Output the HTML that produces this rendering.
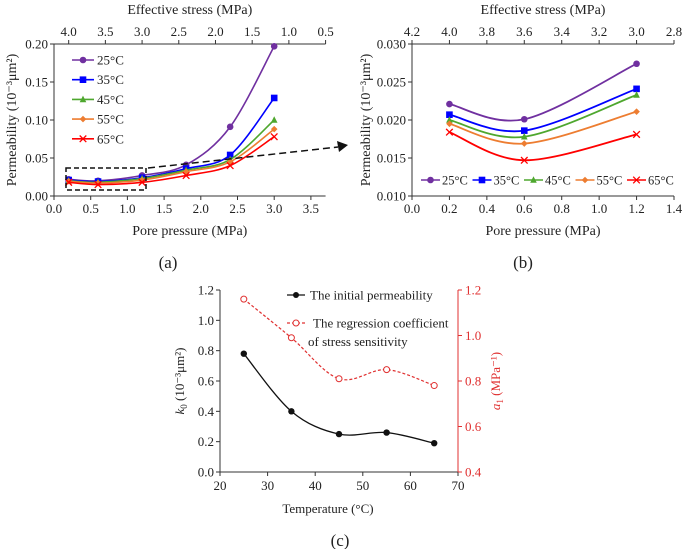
<!DOCTYPE html>
<html><head><meta charset="utf-8">
<style>
html,body{margin:0;padding:0;background:#fff;}
svg{display:block;font-family:"Liberation Serif",serif;}
</style></head>
<body>
<svg id="fig" width="685" height="549" viewBox="0 0 685 549"></svg>
<script>
// ---- data (a) ----
const poreA = [0.2, 0.6, 1.2, 1.8, 2.4, 3.0];
const tempLabels = ["25°C","35°C","45°C","55°C","65°C"];
const permA25 = [0.022, 0.020, 0.027, 0.041, 0.091, 0.197];
const permA35 = [0.021, 0.019, 0.024, 0.036, 0.054, 0.129];
const permA45 = [0.020, 0.018, 0.023, 0.034, 0.048, 0.100];
const permA55 = [0.0195, 0.017, 0.021, 0.032, 0.045, 0.088];
const permA65 = [0.018, 0.015, 0.018, 0.027, 0.040, 0.078];
const xTicksA = [0.0,0.5,1.0,1.5,2.0,2.5,3.0,3.5];
const topTicksA = [4.0,3.5,3.0,2.5,2.0,1.5,1.0,0.5];
const yTicksA = [0.00,0.05,0.10,0.15,0.20];
// ---- data (b) ----
const poreB = [0.2, 0.6, 1.2];
const permB25 = [0.0221, 0.0201, 0.0274];
const permB35 = [0.0207, 0.0186, 0.0241];
const permB45 = [0.0200, 0.0178, 0.0233];
const permB55 = [0.0195, 0.0169, 0.0211];
const permB65 = [0.0184, 0.0147, 0.0181];
const xTicksB = [0.0,0.2,0.4,0.6,0.8,1.0,1.2,1.4];
const topTicksB = [4.2,4.0,3.8,3.6,3.4,3.2,3.0,2.8];
const yTicksB = [0.010,0.015,0.020,0.025,0.030];
// ---- data (c) ----
const temps = [25,35,45,55,65];
const k0 = [0.78, 0.40, 0.25, 0.26, 0.19];
const a1 = [1.16, 0.99, 0.81, 0.85, 0.78];
const xTicksC = [20,30,40,50,60,70];
const yTicksC = [0.0,0.2,0.4,0.6,0.8,1.0,1.2];
const yTicksCR = [0.4,0.6,0.8,1.0,1.2];

const colors = ["#7030a0","#0000ff","#4ea72e","#ed7d31","#ff0000"];
const markers = ["circle","square","triangle","diamond","x"];
const NS="http://www.w3.org/2000/svg";
const svg=document.getElementById('fig');
function el(tag,attrs,parent){const e=document.createElementNS(NS,tag);for(const k in attrs)e.setAttribute(k,attrs[k]);(parent||svg).appendChild(e);return e;}
function txt(s,x,y,attrs,parent){const t=el('text',Object.assign({x:x,y:y},attrs||{}),parent);t.textContent=s;return t;}
function spline(pts){
  let d="M"+pts[0][0]+","+pts[0][1];
  for(let i=0;i<pts.length-1;i++){
    const p0=pts[i-1]||pts[i],p1=pts[i],p2=pts[i+1],p3=pts[i+2]||p2;
    const c1=[p1[0]+(p2[0]-p0[0])/6,p1[1]+(p2[1]-p0[1])/6];
    const c2=[p2[0]-(p3[0]-p1[0])/6,p2[1]-(p3[1]-p1[1])/6];
    d+=" C"+c1[0]+","+c1[1]+" "+c2[0]+","+c2[1]+" "+p2[0]+","+p2[1];
  }
  return d;
}
function marker(type,x,y,c,g,s){
  s=s||3.3;
  if(type==="circle") return el('circle',{cx:x,cy:y,r:s,fill:c},g);
  if(type==="square") return el('rect',{x:x-s,y:y-s,width:2*s,height:2*s,fill:c},g);
  if(type==="triangle") return el('polygon',{points:`${x},${y-s-0.5} ${x-s},${y+s-0.5} ${x+s},${y+s-0.5}`,fill:c},g);
  if(type==="diamond") return el('polygon',{points:`${x},${y-s} ${x+s},${y} ${x},${y+s} ${x-s},${y}`,fill:c},g);
  const g2=el('g',{stroke:c,'stroke-width':1.3},g);
  el('line',{x1:x-s,y1:y-s,x2:x+s,y2:y+s},g2);el('line',{x1:x-s,y1:y+s,x2:x+s,y2:y-s},g2);return g2;
}
function axesFrame(g,L,R,T,B,xTicks,xFn,yTicks,yFn,xfmt,yfmt,topTicks,topFn){
  const ax=el('g',{stroke:'#333','stroke-width':1,fill:'none'},g);
  el('line',{x1:L,y1:B,x2:R,y2:B},ax);el('line',{x1:L,y1:T,x2:L,y2:B},ax);
  el('line',{x1:L,y1:T,x2:R,y2:T},ax);
  xTicks.forEach(v=>{const x=xFn(v);el('line',{x1:x,y1:B,x2:x,y2:B+4},ax);
    const t=txt(xfmt(v),x,B+17,{'text-anchor':'middle','font-size':13,fill:'#222'},g);
    });
  yTicks.forEach(v=>{const y=yFn(v);el('line',{x1:L-4,y1:y,x2:L,y2:y},ax);
    const t=txt(yfmt(v),L-6,y+4.5,{'text-anchor':'end','font-size':13,fill:'#222'},g);
    });
  if(topTicks) topTicks.forEach(v=>{const x=topFn(v);el('line',{x1:x,y1:T-4,x2:x,y2:T},ax);
    const t=txt(v.toFixed(1),x,T-8,{'text-anchor':'middle','font-size':13,fill:'#222'},g);
    });
}

// ===== Chart (a) =====
(function(){
  const g=el('g',{});
  
  const L=54,T=44,B=196,pxPer=73.4,R=L+3.7*pxPer;
  const xs=v=>L+v*pxPer, ys=v=>B-(v/0.2)*(B-T), ts=v=>xs(4.2-v);
  axesFrame(g,L,R,T,B,xTicksA,xs,yTicksA,ys,v=>v.toFixed(1),v=>v.toFixed(2),topTicksA,ts);
  const tt=txt("Effective stress (MPa)",(L+R)/2,14,{'text-anchor':'middle','font-size':14,fill:'#222'},g);
  
  const xt=txt("Pore pressure (MPa)",(L+R)/2,235,{'text-anchor':'middle','font-size':14,fill:'#222'},g);
  
  const yt=txt("Permeability (10⁻³μm²)",0,0,{'text-anchor':'middle','font-size':14,fill:'#222',transform:`translate(16,${(T+B)/2}) rotate(-90)`},g);
  
  const series=[permA25,permA35,permA45,permA55,permA65];
  series.forEach((s,i)=>{
    const sg=el('g',{},g);
    
    const pts=poreA.map((p,j)=>[xs(p),ys(s[j])]);
    el('path',{d:spline(pts),stroke:colors[i],'stroke-width':1.6,fill:'none'},sg);
    pts.forEach(p=>marker(markers[i],p[0],p[1],colors[i],sg));
  });
  tempLabels.forEach((lab,i)=>{
    const y=60+i*19.7;
    const lg=el('g',{},g);
    
    el('line',{x1:72,y1:y,x2:94,y2:y,stroke:colors[i],'stroke-width':1.6},lg);
    marker(markers[i],83,y,colors[i],lg);
    txt(lab,97,y+4.5,{'font-size':13,fill:'#222'},lg);
  });
  const zb=el('rect',{x:66,y:168,width:80,height:22,fill:'none',stroke:'#111','stroke-width':1.5,'stroke-dasharray':'5,3'},g);
  
  const ar=el('line',{x1:148,y1:168,x2:338,y2:147,stroke:'#111','stroke-width':1.5,'stroke-dasharray':'7,4'},g);
  
  el('polygon',{points:"348,145 337,141 339,152",fill:'#111'},g);
  const cap=txt("(a)",168,268,{'text-anchor':'middle','font-size':17,fill:'#222'},g);
  
})();

// ===== Chart (b) =====
(function(){
  const g=el('g',{});
  
  const L=412,T=44,B=196,R=674;
  const xs=v=>L+v/1.4*(R-L), ys=v=>B-(v-0.010)/0.020*(B-T), ts=v=>xs(4.2-v);
  axesFrame(g,L,R,T,B,xTicksB,xs,yTicksB,ys,v=>v.toFixed(1),v=>v.toFixed(3),topTicksB,ts);
  const tt=txt("Effective stress (MPa)",(L+R)/2,14,{'text-anchor':'middle','font-size':14,fill:'#222'},g);
  
  const xt=txt("Pore pressure (MPa)",(L+R)/2,235,{'text-anchor':'middle','font-size':14,fill:'#222'},g);
  
  const yt=txt("Permeability (10⁻³μm²)",0,0,{'text-anchor':'middle','font-size':14,fill:'#222',transform:`translate(370,${(T+B)/2}) rotate(-90)`},g);
  
  const series=[permB25,permB35,permB45,permB55,permB65];
  series.forEach((s,i)=>{
    const sg=el('g',{},g);
    
    const pts=poreB.map((p,j)=>[xs(p),ys(s[j])]);
    el('path',{d:spline(pts),stroke:colors[i],'stroke-width':1.8,fill:'none'},sg);
    pts.forEach(p=>marker(markers[i],p[0],p[1],colors[i],sg));
  });
  tempLabels.forEach((lab,i)=>{
    const x=421+i*51.5,y=180;
    const lg=el('g',{},g);
    
    el('line',{x1:x,y1:y,x2:x+19,y2:y,stroke:colors[i],'stroke-width':1.6},lg);
    marker(markers[i],x+9.5,y,colors[i],lg);
    txt(lab,x+21,y+4.5,{'font-size':12.5,fill:'#222'},lg);
  });
  const cap=txt("(b)",523,268,{'text-anchor':'middle','font-size':17,fill:'#222'},g);
  
})();

// ===== Chart (c) =====
(function(){
  const g=el('g',{});
  
  const L=220,R=458,T=290,B=472;
  const xs=v=>L+(v-20)/50*(R-L), ys=v=>B-v/1.2*(B-T), yr=v=>B-(v-0.4)/0.8*(B-T);
  const ax=el('g',{stroke:'#333','stroke-width':1},g);
  el('line',{x1:L,y1:B,x2:R,y2:B},ax);el('line',{x1:L,y1:T,x2:L,y2:B},ax);
  xTicksC.forEach(v=>{const x=xs(v);el('line',{x1:x,y1:B,x2:x,y2:B+4},ax);
    const t=txt(String(v),x,B+18,{'text-anchor':'middle','font-size':13,fill:'#222'},g);
    });
  yTicksC.forEach(v=>{const y=ys(v);el('line',{x1:L-4,y1:y,x2:L,y2:y},ax);
    const t=txt(v.toFixed(1),L-6,y+4.5,{'text-anchor':'end','font-size':13,fill:'#222'},g);
    });
  const rax=el('g',{stroke:'#e03030','stroke-width':1},g);
  el('line',{x1:R,y1:T,x2:R,y2:B},rax);
  yTicksCR.forEach(v=>{const y=yr(v);el('line',{x1:R,y1:y,x2:R+4,y2:y},rax);
    const t=txt(v.toFixed(1),R+7,y+4.5,{'font-size':13,fill:'#e03030'},g);
    });
  const xt=txt("Temperature (°C)",328,513,{'text-anchor':'middle','font-size':13,fill:'#222'},g);
  
  const yt=el('text',{'text-anchor':'middle','font-size':13,fill:'#222',transform:`translate(184,${(T+B)/2}) rotate(-90)`},g);
  yt.innerHTML='<tspan font-style="italic">k</tspan><tspan font-size="9" dy="3">0</tspan><tspan dy="-3"> (10⁻³μm²)</tspan>';
  
  const yt2=el('text',{'text-anchor':'middle','font-size':13,fill:'#e03030',transform:`translate(500,${(T+B)/2}) rotate(-90)`},g);
  yt2.innerHTML='<tspan font-style="italic">a</tspan><tspan font-size="9" dy="3">1</tspan><tspan dy="-3"> (MPa⁻¹)</tspan>';
  
  const s1=el('g',{},g);
  
  const p1=temps.map((t,j)=>[xs(t),ys(k0[j])]);
  el('path',{d:spline(p1),stroke:'#111','stroke-width':1.3,fill:'none'},s1);
  p1.forEach(p=>el('circle',{cx:p[0],cy:p[1],r:3.2,fill:'#111'},s1));
  const s2=el('g',{},g);
  
  const p2=temps.map((t,j)=>[xs(t),yr(a1[j])]);
  el('path',{d:spline(p2),stroke:'#e03030','stroke-width':1.2,fill:'none','stroke-dasharray':'3,2'},s2);
  p2.forEach(p=>el('circle',{cx:p[0],cy:p[1],r:3,fill:'#fff',stroke:'#e03030','stroke-width':1},s2));
  const l1=el('g',{},g);
  
  el('line',{x1:287,y1:295,x2:305,y2:295,stroke:'#111','stroke-width':1.3},l1);
  el('circle',{cx:296,cy:295,r:3,fill:'#111'},l1);
  txt("The initial permeability",310,299.5,{'font-size':13,fill:'#222'},l1);
  const l2=el('g',{},g);
  
  el('line',{x1:287,y1:323,x2:305,y2:323,stroke:'#e03030','stroke-width':1.2,'stroke-dasharray':'3,2'},l2);
  el('circle',{cx:296,cy:323,r:3,fill:'#fff',stroke:'#e03030'},l2);
  txt("The regression coefficient",313,327.5,{'font-size':13,fill:'#222'},l2);
  txt("of stress sensitivity",308,346,{'font-size':13,fill:'#222'},l2);
  const cap=txt("(c)",340,546,{'text-anchor':'middle','font-size':17,fill:'#222'},g);
  
})();
</script>
</body></html>
